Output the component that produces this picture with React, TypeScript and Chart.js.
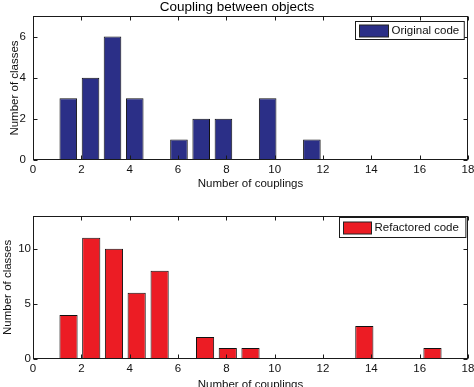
import React, { useEffect, useRef } from "react";
import { Chart, registerables } from "chart.js";

Chart.register(...registerables);

const FONT = "'Liberation Sans', Arial, Helvetica, sans-serif";

// Histogram bin centres and counts
const originalBinCenters = [1.46, 2.38, 3.29, 4.21, 5.13, 6.04, 6.96, 7.88, 8.79, 9.71, 10.63, 11.54];
const originalCounts = [3, 4, 6, 3, 0, 1, 2, 2, 0, 3, 0, 1];

const refactoredBinCenters = [1.47, 2.41, 3.35, 4.29, 5.24, 6.18, 7.12, 8.06, 9.0, 9.94, 10.88, 11.82, 12.76, 13.71, 14.65, 15.59, 16.53];
const refactoredCounts = [4, 11, 10, 6, 8, 0, 2, 1, 1, 0, 0, 0, 0, 3, 0, 0, 1];

const xTickValues = [0, 2, 4, 6, 8, 10, 12, 14, 16, 18];
const originalYTicks = [0, 2, 4, 6];
const refactoredYTicks = [0, 5, 10];

const TITLE = "Coupling between objects";
const X_LABEL = "Number of couplings";
const Y_LABEL = "Number of classes";
const ORIGINAL_LABEL = "Original code";
const REFACTORED_LABEL = "Refactored code";

const framePlugin = {
  id: "frame",
  afterDraw(chart: any, _args: any, opts: any) {
    const { ctx, chartArea: a, scales } = chart;
    ctx.save();
    ctx.strokeStyle = "#1a1a1a";
    ctx.lineWidth = 1;
    const L = Math.round(a.left) + 0.5;
    const T = Math.round(a.top) + 0.5;
    const R = Math.round(a.right) - 0.5;
    const B = Math.round(a.bottom) - 0.5;
    ctx.strokeRect(L, T, R - L, B - T);
    ctx.beginPath();
    scales.x.ticks.forEach((t: any) => {
      const px = Math.round(scales.x.getPixelForValue(t.value)) + 0.5;
      ctx.moveTo(px, B);
      ctx.lineTo(px, B - 4);
      ctx.moveTo(px, T);
      ctx.lineTo(px, T + 4);
    });
    scales.y.ticks.forEach((t: any) => {
      const py = Math.round(scales.y.getPixelForValue(t.value)) + 0.5;
      ctx.moveTo(L, py);
      ctx.lineTo(L + 4, py);
      ctx.moveTo(R, py);
      ctx.lineTo(R - 4, py);
    });
    ctx.stroke();

    // boxed legend inside the plot area, top-right
    const ds = chart.data.datasets[0];
    ctx.font = `11.5px ${FONT}`;
    const tw = ctx.measureText(ds.label).width;
    const pad = opts.pad;
    const sw = opts.swatchW;
    const sh = opts.swatchH;
    const gap = opts.gap;
    const bw = pad + sw + gap + tw + opts.padRight;
    const bh = opts.boxH;
    const bx = Math.round(a.right - opts.right - bw) + 0.5;
    const by = Math.round(a.top + opts.top) + 0.5;
    ctx.fillStyle = "#ffffff";
    ctx.fillRect(bx, by, bw, bh);
    ctx.strokeStyle = "#1a1a1a";
    ctx.strokeRect(bx, by, bw, bh);
    const sx = bx + pad;
    const sy = by + (bh - sh) / 2 + 0.5;
    ctx.fillStyle = ds.backgroundColor;
    ctx.fillRect(sx, sy, sw, sh);
    ctx.strokeStyle = "#222";
    ctx.strokeRect(sx, sy, sw, sh);
    ctx.fillStyle = "#111";
    ctx.textBaseline = "middle";
    ctx.textAlign = "left";
    ctx.fillText(ds.label, sx + sw + gap, by + bh / 2 + 0.5);
    ctx.restore();
  },
};

type PanelProps = {
  height: number;
  top: number;
  centers: number[];
  counts: number[];
  yTicks: number[];
  yMax: number;
  label: string;
  color: string;
  title?: string;
  areaTop: number;
  areaBottom: number;
  xTitlePad: number;
  padLeft: number;
  yWidth: number;
  yTickPad: number;
  yTitlePad: number;
  legend: any;
};

function Panel(p: PanelProps) {
  const ref = useRef<HTMLCanvasElement | null>(null);
  useEffect(() => {
    if (!ref.current) return;
    const chart = new Chart(ref.current, {
      type: "bar",
      data: {
        datasets: [
          {
            label: p.label,
            data: p.centers.map((x, i) => ({ x, y: p.counts[i] })),
            backgroundColor: p.color,
            borderColor: "#111",
            borderWidth: 1,
            borderSkipped: false,
            inflateAmount: 0,
            barPercentage: 0.8,
            categoryPercentage: 1,
          } as any,
        ],
      },
      options: {
        animation: false,
        responsive: false,
        maintainAspectRatio: false,
        layout: {
          padding: { left: p.padLeft, right: 6, top: p.title ? 0 : p.areaTop, bottom: 0 },
        },
        plugins: {
          legend: { display: false },
          tooltip: { enabled: false },
          title: p.title
            ? {
                display: true,
                text: p.title,
                color: "#000",
                font: { family: FONT, size: 13.5, weight: "normal" },
                padding: { top: -1, bottom: p.areaTop - 16.2 + 1 },
              }
            : { display: false },
          frame: p.legend,
        } as any,
        scales: {
          x: {
            type: "linear",
            min: 0,
            max: 18,
            offset: false,
            grid: { display: false, drawTicks: false, offset: false },
            border: { display: false },
            afterBuildTicks: (s: any) => {
              s.ticks = xTickValues.map((v) => ({ value: v }));
            },
            afterFit: (s: any) => {
              s.height = p.height - p.areaBottom;
              s.paddingRight = 0;
              s.paddingLeft = 0;
            },
            ticks: {
              padding: 3,
              color: "#111",
              font: { family: FONT, size: 11.5 },
              maxRotation: 0,
              autoSkip: false,
            },
            title: {
              display: true,
              text: X_LABEL,
              color: "#111",
              font: { family: FONT, size: 11.5 },
              padding: { top: 0, bottom: p.xTitlePad },
            },
          },
          y: {
            type: "linear",
            min: 0,
            max: p.yMax,
            grid: { display: false, drawTicks: false },
            border: { display: false },
            afterBuildTicks: (s: any) => {
              s.ticks = p.yTicks.map((v) => ({ value: v }));
            },
            afterFit: (s: any) => {
              s.width = p.yWidth;
            },
            ticks: {
              padding: p.yTickPad,
              color: "#111",
              font: { family: FONT, size: 11.5 },
            },
            title: {
              display: true,
              text: Y_LABEL,
              color: "#111",
              font: { family: FONT, size: 11.5 },
              padding: { top: p.yTitlePad, bottom: 0 },
            },
          },
        } as any,
      },
      plugins: [framePlugin],
    });
    return () => chart.destroy();
  }, []);
  return (
    <canvas
      ref={ref}
      width={474}
      height={p.height}
      style={{ position: "absolute", left: 0, top: p.top, width: 474, height: p.height, display: "block" }}
    />
  );
}

export default function App() {
  return (
    <div
      style={{
        position: "fixed",
        left: 0,
        top: 0,
        width: 474,
        height: 387,
        overflow: "hidden",
        background: "#ffffff",
      }}
    >
      <Panel
        height={195}
        top={0}
        centers={originalBinCenters}
        counts={originalCounts}
        yTicks={originalYTicks}
        yMax={7}
        label={ORIGINAL_LABEL}
        color="#2b2f87"
        title={TITLE}
        areaTop={16}
        areaBottom={160}
        xTitlePad={4}
        padLeft={6}
        yWidth={27}
        yTickPad={7}
        yTitlePad={1.5}
        legend={{ right: 4, top: 5, pad: 4, swatchW: 29, swatchH: 12, gap: 3, padRight: 5, boxH: 18 }}
      />
      <Panel
        height={210}
        top={195}
        centers={refactoredBinCenters}
        counts={refactoredCounts}
        yTicks={refactoredYTicks}
        yMax={13}
        label={REFACTORED_LABEL}
        color="#ec1c24"
        areaTop={20.7}
        areaBottom={164}
        xTitlePad={13}
        padLeft={1}
        yWidth={32}
        yTickPad={2}
        yTitlePad={0}
        legend={{ right: 3, top: 1.5, pad: 4, swatchW: 28, swatchH: 12, gap: 3, padRight: 7, boxH: 20 }}
      />
    </div>
  );
}
